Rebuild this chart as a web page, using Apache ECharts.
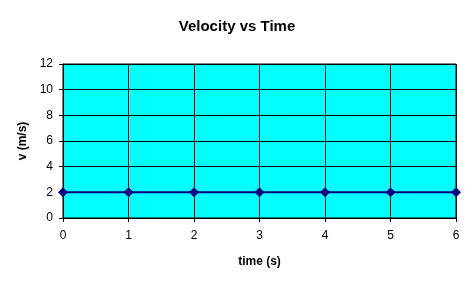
<!DOCTYPE html>
<html>
<head>
<meta charset="utf-8">
<script src="https://cdn.jsdelivr.net/npm/echarts@6/dist/echarts.min.js"></script>
<style>
html, body { margin: 0; padding: 0; background: #fff; }
#chart { width: 474px; height: 285px; }
</style>
</head>
<body>
<div id="chart"></div>
<script>
// data
var times = [0, 1, 2, 3, 4, 5, 6];
var velocity = [2, 2, 2, 2, 2, 2, 2];

var myChart = echarts.init(document.getElementById("chart"));

var points = [];
for (var i = 0; i < times.length; i++) {
    points.push([times[i], velocity[i]]);
}

var fontFam = "Liberation Sans, Arial, sans-serif";
var labelFont = { fontFamily: fontFam, fontSize: 12, color: "#000" };

var option = {
    animation: false,
    title: {
        text: "Velocity vs Time",
        left: "center",
        top: 14,
        textStyle: { fontFamily: fontFam, fontSize: 15, fontWeight: "bold", color: "#000" }
    },
    grid: {
        left: 63, right: 18, top: 64, bottom: 67,
        show: true,
        backgroundColor: "#00FFFF",
        borderColor: "#000",
        borderWidth: 1
    },
    xAxis: {
        type: "value",
        min: 0, max: 6, interval: 1,
        name: "time (s)",
        nameLocation: "middle",
        nameGap: 38,
        nameTextStyle: { fontFamily: fontFam, fontSize: 12, fontWeight: "bold", color: "#000" },
        axisLine: { lineStyle: { color: "#000", width: 1 } },
        axisTick: { show: true, length: 4, lineStyle: { color: "#000" } },
        axisLabel: Object.assign({ margin: 12 }, labelFont),
        splitLine: { show: true, lineStyle: { color: "#000", width: 1 } }
    },
    yAxis: {
        type: "value",
        min: 0, max: 12, interval: 2,
        name: "v (m/s)",
        nameLocation: "middle",
        nameGap: 28,
        nameRotate: 90,
        nameTextStyle: { fontFamily: fontFam, fontSize: 12, fontWeight: "bold", color: "#000" },
        axisLine: { show: true, lineStyle: { color: "#000", width: 1 } },
        axisTick: { show: true, length: 4, lineStyle: { color: "#000" } },
        axisLabel: Object.assign({ margin: 10 }, labelFont),
        splitLine: { show: true, lineStyle: { color: "#000", width: 1 } }
    },
    series: [
        {
            type: "line",
            data: points,
            symbol: "diamond",
            symbolSize: 10,
            itemStyle: { color: "#000080" },
            lineStyle: { color: "#000080", width: 2 },
            clip: false
        }
    ]
};

myChart.setOption(option);
</script>
</body>
</html>
